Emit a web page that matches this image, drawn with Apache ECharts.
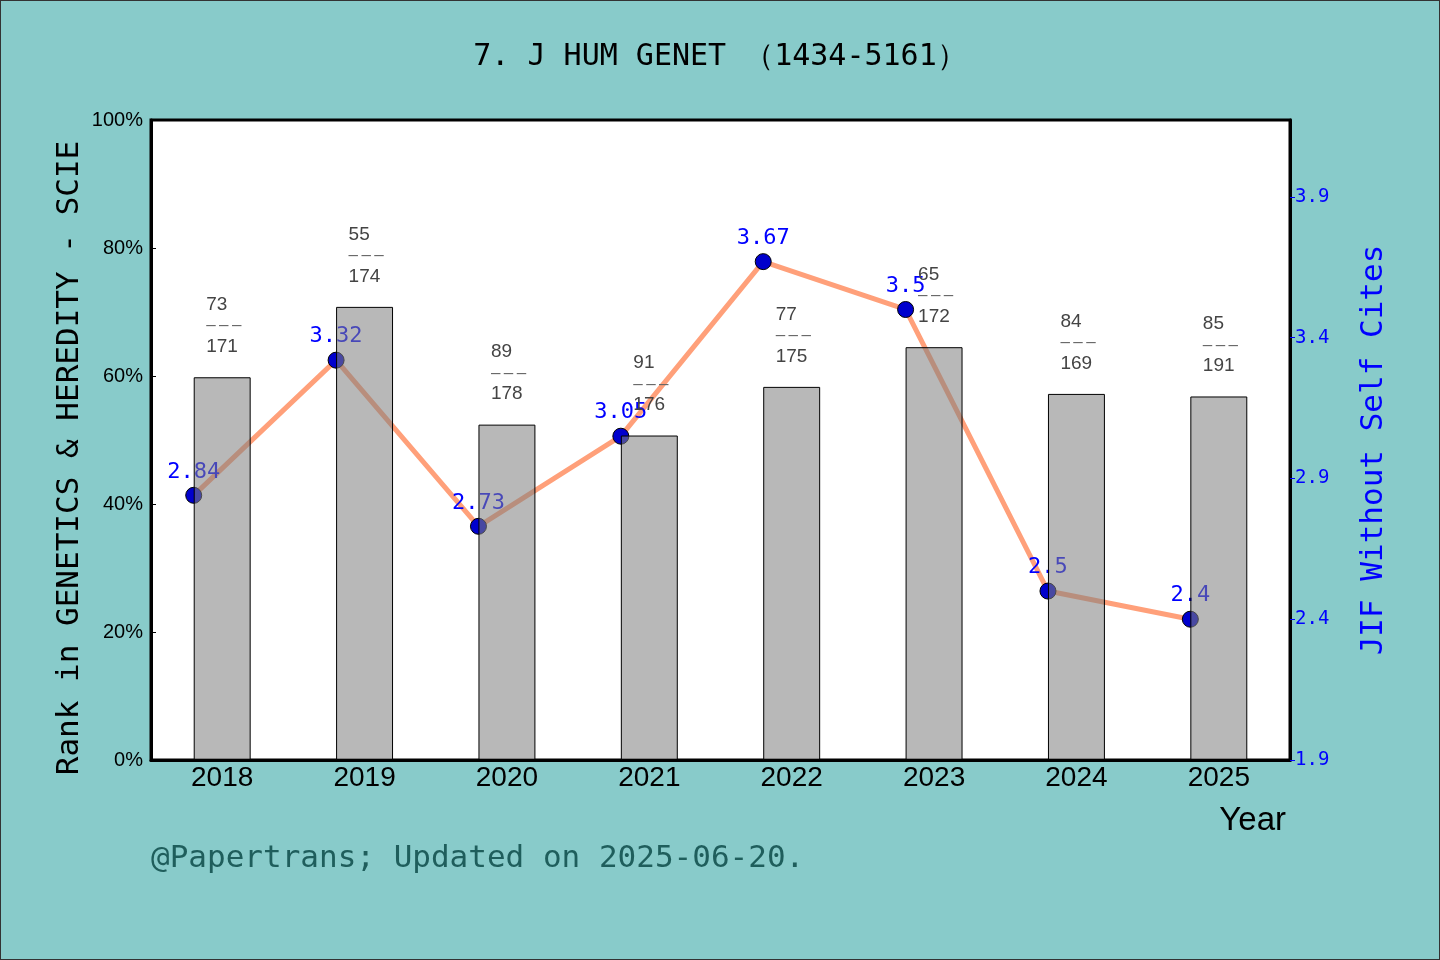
<!DOCTYPE html>
<html>
<head>
<meta charset="utf-8">
<script src="https://cdn.jsdelivr.net/npm/echarts@6/dist/echarts.min.js"></script>
<style>
    html, body { margin: 0; padding: 0; }
    #main {
        width: 1440px;
        height: 960px;
        box-sizing: border-box;
        border: 1px solid #333;
    }
</style>
</head>
<body>
<div id="main"></div>
<script>
    // 数据：年份、排名分数条、JIF（不含自引）
    const years = ['2018', '2019', '2020', '2021', '2022', '2023', '2024', '2025'];
    const rankPercent = [59.8, 70.8, 52.4, 50.7, 58.3, 64.5, 57.2, 56.8];
    const ranks = [73, 55, 89, 91, 77, 65, 84, 85];
    const totals = [171, 174, 178, 176, 175, 172, 169, 191];
    const jifNoSelf = [2.84, 3.32, 2.73, 3.05, 3.67, 3.5, 2.5, 2.4];
    const jifTicks = [1.9, 2.4, 2.9, 3.4, 3.9];

    const mono = "'DejaVu Sans Mono', monospace";
    const sans = "'Liberation Sans', Arial, sans-serif";
    const lineShift = 0.2;   // 折线点在柱子左边缘

    const option = {
        backgroundColor: '#88cbca',
        animation: false,
        title: [
            {
                text: '7. J HUM GENET （1434-5161）',
                left: 'center',
                top: 36,
                textStyle: { fontFamily: mono, fontSize: 30, fontWeight: 'normal', color: '#000' }
            },
            {
                text: 'Year',
                right: 148,
                top: 798,
                textStyle: { fontFamily: sans, fontSize: 33, fontWeight: 'normal', color: '#000' }
            },
            {
                text: '@Papertrans; Updated on 2025-06-20.',
                left: 145,
                top: 837,
                textStyle: { fontFamily: mono, fontSize: 31, fontWeight: 'normal', color: '#1f5e5c' }
            }
        ],
        grid: {
            left: 150,
            right: 149,
            top: 119,
            bottom: 199,
            show: true,
            backgroundColor: '#fff',
            borderColor: '#000',
            borderWidth: 3,
            outerBoundsMode: 'none'
        },
        xAxis: [
            {
                type: 'category',
                data: years,
                axisLine: { lineStyle: { color: '#000', width: 3 } },
                axisTick: { inside: true, length: 5, lineStyle: { color: '#000' } },
                axisLabel: { fontFamily: sans, fontSize: 28, color: '#000', margin: 4 },
                splitLine: { show: false }
            },
            {
                type: 'value',
                min: -0.5,
                max: years.length - 0.5,
                show: false
            }
        ],
        yAxis: [
            {
                type: 'value',
                min: 0,
                max: 100,
                interval: 20,
                name: 'Rank in GENETICS & HEREDITY - SCIE',
                nameLocation: 'middle',
                nameGap: 66,
                nameRotate: 90,
                nameMoveOverlap: false,
                nameTextStyle: { fontFamily: mono, fontSize: 31, color: '#000', padding: [0, 0, 0, -36] },
                axisLine: { show: true, onZero: false, lineStyle: { color: '#000', width: 3 } },
                axisTick: { show: true, inside: true, length: 5, lineStyle: { color: '#000' } },
                axisLabel: {
                    formatter: '{value}%',
                    fontFamily: "'Liberation Sans Narrow', 'Liberation Sans', sans-serif",
                    fontSize: 20,
                    color: '#000',
                    margin: 8
                },
                splitLine: { show: false }
            },
            {
                type: 'value',
                min: 1.9,
                max: 4.173,
                position: 'right',
                name: 'JIF Without Self Cites',
                nameLocation: 'middle',
                nameGap: 68,
                nameRotate: 90,
                nameMoveOverlap: false,
                nameTextStyle: { fontFamily: mono, fontSize: 31, color: '#0000ff', padding: [0, 0, 0, -20] },
                axisLine: { show: true, onZero: false, lineStyle: { color: '#000', width: 3 } },
                axisTick: { show: true, length: 5, customValues: jifTicks, lineStyle: { color: '#0000ff' } },
                axisLabel: {
                    customValues: jifTicks,
                    fontFamily: mono,
                    fontSize: 19,
                    color: '#0000ff',
                    margin: 5
                },
                splitLine: { show: false }
            }
        ],
        series: [
            {
                name: 'JIF',
                type: 'line',
                xAxisIndex: 1,
                yAxisIndex: 1,
                z: 2,
                data: jifNoSelf.map((v, i) => [i - lineShift, v]),
                symbol: 'circle',
                symbolSize: 16,
                lineStyle: { color: '#ffa07a', width: 5 },
                itemStyle: { color: '#0000cd', borderColor: '#000', borderWidth: 1 },
                label: {
                    show: true,
                    position: 'top',
                    distance: 4,
                    formatter: (p) => String(p.data[1]),
                    fontFamily: mono,
                    fontSize: 22,
                    color: '#0000ff'
                }
            },
            {
                name: 'Rank',
                type: 'bar',
                xAxisIndex: 0,
                yAxisIndex: 0,
                z: 3,
                barWidth: '40%',
                data: rankPercent,
                itemStyle: {
                    color: 'rgba(128,128,128,0.56)',
                    borderColor: '#000',
                    borderWidth: 1
                },
                label: {
                    show: true,
                    position: 'top',
                    distance: 20,
                    formatter: (p) => '{b|' + ranks[p.dataIndex] + '}\n{d|–\u2009–\u2009–}\n{b|' + totals[p.dataIndex] + '}',
                    rich: {
                        b: { fontFamily: sans, fontSize: 19, color: '#444', width: 32, align: 'left', lineHeight: 21 },
                        d: { fontFamily: sans, fontSize: 17, color: '#666', width: 32, align: 'left', lineHeight: 21 }
                    }
                }
            }
        ]
    };

    const chart = echarts.init(document.getElementById('main'));
    chart.setOption(option);
</script>
</body>
</html>
